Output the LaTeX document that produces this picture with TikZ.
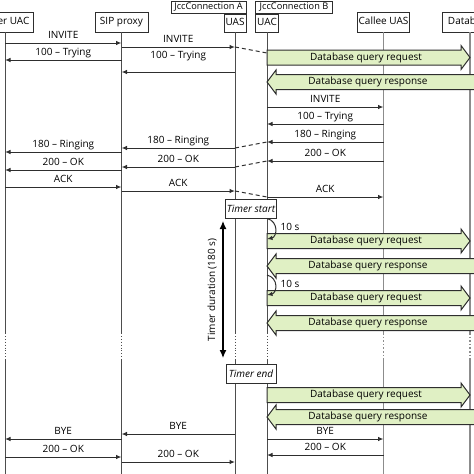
\documentclass[tikz,border=0pt]{standalone}
\usepackage{fontspec}
\setmainfont{Open Sans}
\usetikzlibrary{arrows.meta}
\definecolor{bandgreen}{HTML}{E0F0C4}
\definecolor{ink}{HTML}{2E2E2E}
\definecolor{lifegray}{HTML}{8C8C8C}
\tikzset{>={Latex[width=4.5pt,length=5.5pt]}}
\tikzset{
  head/.style={draw=ink, line width=0.9pt, fill=white, inner sep=0.5pt,
    minimum height=20pt, text height=7pt, text depth=2pt},
  jcchead/.style={head, minimum height=12pt, font=\fontsize{9.2}{10}\selectfont},
  life/.style={draw=ink!85, line width=0.9pt},
  fatlife/.style={draw=lifegray, line width=1.6pt},
  msg/.style={->, draw=ink, line width=1pt},
  relay/.style={draw=ink, line width=1pt, dash pattern=on 4pt off 3pt},
  lbl/.style={above=2.5pt, inner sep=0pt, text height=7pt, text depth=2pt},
  band/.style={draw=ink, line width=1pt, fill=bandgreen},
  timerbox/.style={draw=ink, line width=0.9pt, fill=white, minimum width=50pt,
    minimum height=19pt, inner sep=1pt, font=\itshape}
}
% green query bands between JccConnection B and the database
\newcommand{\dbreq}[2]{%
  \draw[band] (267,{#2-7.5}) -- (461,{#2-7.5}) -- (461,{#2-12}) -- (470,#2)
    -- (461,{#2+12}) -- (461,{#2+7.5}) -- (267,{#2+7.5}) -- cycle;
  \node (#1) at (366,#2) {Database query request};}
\newcommand{\dbresp}[2]{%
  \draw[band] (267,#2) -- (276,{#2-12}) -- (276,{#2-7.5}) -- (480,{#2-7.5})
    -- (480,{#2+7.5}) -- (276,{#2+7.5}) -- (276,{#2+12}) -- cycle;
  \node (#1) at (368,#2) {Database query response};}

\begin{document}
\begin{tikzpicture}[x=1pt, y=-1pt, font=\fontsize{10}{11}\selectfont]
	\useasboundingbox (0,0) rectangle (474,474);
	\clip (0,0) rectangle (474,474);
	% headers
	\node[head, minimum width=56pt] (caller) at (5,22) {Caller UAC};
	\node[head, minimum width=53pt] (proxy) at (121.5,22) {SIP proxy};
	\node[head, minimum width=22pt, minimum height=18pt] (uas) at (235,23) {UAS};
	\node[head, minimum width=23pt, minimum height=18pt] (uac) at (267,23) {UAC};
	\node[jcchead, minimum width=75pt, anchor=south east] (jccA) at (uas.north east) {JccConnection A};
	\node[jcchead, minimum width=77pt, anchor=south west] (jccB) at (uac.north west) {JccConnection B};
	\node[head, minimum width=52pt] (callee) at (383.5,22) {Callee UAS};
	\node[head, minimum width=56pt] (db) at (470,22) {Database};
	% lifelines
	\foreach \n/\s in {caller/life, proxy/life, uas/life, uac/life, callee/fatlife, db/fatlife} {
		\draw[\s] (\n.south) -- (\n.south |- 0,333);
		\draw[\s, dotted] (\n.south |- 0,333) -- (\n.south |- 0,360);
		\draw[\s] (\n.south |- 0,360) -- (\n.south |- 0,480);
	}
	% caller <-> SIP proxy
	\draw[msg] (caller |- 0,43) -- node[lbl] {INVITE} (proxy |- 0,43);
	\draw[msg] (proxy |- 0,60) -- node[lbl] {100 – Trying} (caller |- 0,60);
	\draw[msg] (proxy |- 0,152) -- node[lbl] {180 – Ringing} (caller |- 0,152);
	\draw[msg] (proxy |- 0,170) -- node[lbl] {200 – OK} (caller |- 0,170);
	\draw[msg] (caller |- 0,187) -- node[lbl] {ACK} (proxy |- 0,187);
	\draw[msg] (proxy |- 0,439) -- node[lbl] {BYE} (caller |- 0,439);
	\draw[msg] (caller |- 0,457) -- node[lbl] {200 – OK} (proxy |- 0,457);
	% SIP proxy <-> JccConnection A
	\draw[msg] (proxy |- 0,47) -- node[lbl] {INVITE} (uas |- 0,47);
	\draw[msg] (uas |- 0,72) -- node[lbl, above=9pt] {100 – Trying} (proxy |- 0,72);
	\draw[msg] (uas |- 0,148) -- node[lbl] {180 – Ringing} (proxy |- 0,148);
	\draw[msg] (uas |- 0,167) -- node[lbl] {200 – OK} (proxy |- 0,167);
	\draw[msg] (proxy |- 0,191) -- node[lbl] {ACK} (uas |- 0,191);
	\draw[msg] (uas |- 0,434) -- node[lbl] {BYE} (proxy |- 0,434);
	\draw[msg] (proxy |- 0,462) -- node[lbl] {200 – OK} (uas |- 0,462);
	% A <-> B relay
	\draw[relay] (uas |- 0,47) -- (uac |- 0,53);
	\draw[relay] (uas |- 0,148) -- (uac |- 0,142);
	\draw[relay] (uas |- 0,167) -- (uac |- 0,161);
	\draw[relay] (uas |- 0,191) -- (uac |- 0,197);
	% JccConnection B <-> callee
	\draw[msg] (uac |- 0,107) -- node[lbl] {INVITE} (callee |- 0,107);
	\draw[msg] (callee |- 0,124) -- node[lbl] {100 – Trying} (uac |- 0,124);
	\draw[msg] (callee |- 0,142) -- node[lbl] {180 – Ringing} (uac |- 0,142);
	\draw[msg] (callee |- 0,161) -- node[lbl] {200 – OK} (uac |- 0,161);
	\draw[msg] (uac |- 0,197) -- node[lbl] {ACK} (callee |- 0,197);
	\draw[msg] (uac |- 0,439) -- node[lbl] {BYE} (callee |- 0,439);
	\draw[msg] (callee |- 0,455) -- node[lbl] {200 – OK} (uac |- 0,455);
	% database queries
	\dbreq{req1}{57.5}
	\dbresp{resp1}{82}
	\dbreq{req2}{241}
	\dbresp{resp2}{266}
	\dbreq{req3}{298}
	\dbresp{resp3}{323}
	\dbreq{req4}{395}
	\dbresp{resp4}{417}
	% timer
	\node[timerbox] (tstart) at (251,208.5) {Timer start};
	\node[timerbox] (tend) at (251,373.5) {Timer end};
	\draw[msg] (tstart.south -| uac) .. controls +(12,3) and +(10,-2) .. (uac |- 0,239);
	\node[anchor=west] (tick1) at (277,227) {10 s};
	\draw[msg] (uac |- 0,275) .. controls +(12,3) and +(10,-2) .. (uac |- 0,295);
	\node[anchor=west] (tick2) at (277,284) {10 s};
	\coordinate (durtop) at (223,221);
	\coordinate (durbot) at (223,358);
	\draw[{Latex[width=7pt,length=8pt]}-{Latex[width=7pt,length=8pt]}, line width=1.2pt] (durtop) -- (durbot);
	\node[rotate=90] (dur) at (212,290) {Timer duration (180 s)};
\end{tikzpicture}
\end{document}
